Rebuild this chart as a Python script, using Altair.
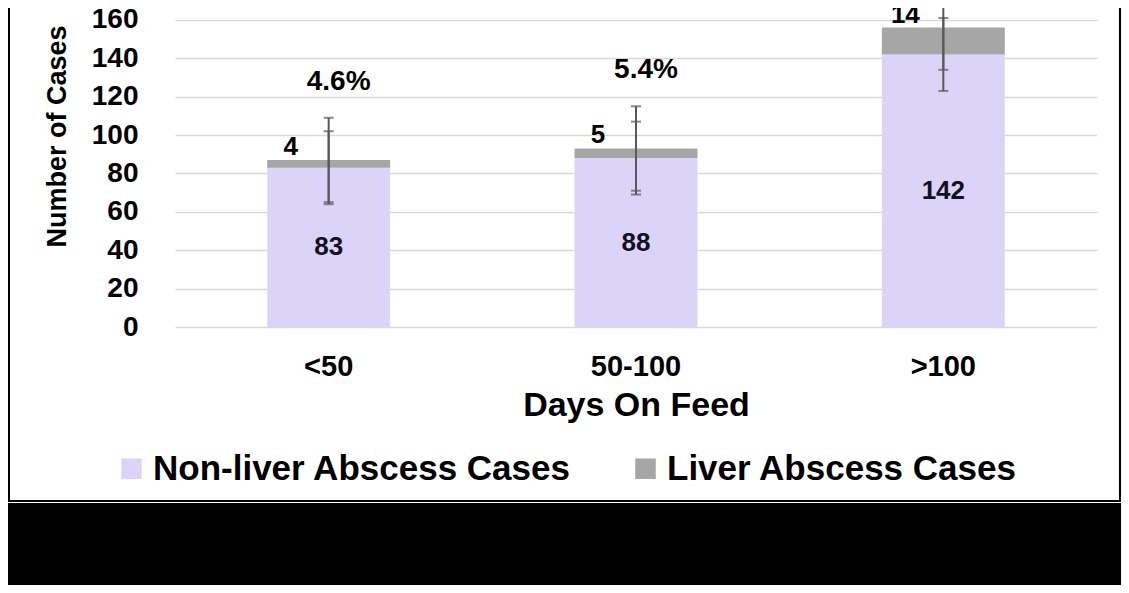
import altair as alt
import pandas as pd

days = ["<50", "50-100", ">100"]
non_liver = [83, 88, 142]
liver = [4, 5, 14]
pct_labels = ["4.6%", "5.4%", ""]
err_non_liver = [19, 19, 19]
err_total = [22, 22, 22]
series = ["Non-liver Abscess Cases", "Liver Abscess Cases"]
colors = ["#DCD4F8", "#A6A6A6"]
y_ticks = [0, 20, 40, 60, 80, 100, 120, 140, 160]

FONT = "Liberation Sans, Arial, sans-serif"

total = [a + b for a, b in zip(non_liver, liver)]

bars = pd.DataFrame({
    "days": days * 2,
    "series": [series[0]] * 3 + [series[1]] * 3,
    "lo": [0, 0, 0] + non_liver,
    "hi": non_liver + total,
})

labels = pd.DataFrame({
    "days": days,
    "non_liver": non_liver,
    "liver": liver,
    "total": total,
    "mid": [v / 2 for v in non_liver],
    "pct": pct_labels,
})

errors = pd.DataFrame({
    "days": days * 2,
    "lo": [c - e for c, e in zip(non_liver, err_non_liver)]
          + [c - e for c, e in zip(total, err_total)],
    "hi": [c + e for c, e in zip(non_liver, err_non_liver)]
          + [c + e for c, e in zip(total, err_total)],
})
caps = pd.DataFrame({
    "days": list(errors["days"]) * 2,
    "v": list(errors["lo"]) + list(errors["hi"]),
})

x_scale = alt.Scale(paddingInner=0.6, paddingOuter=0.3)
y_scale = alt.Scale(domain=[0, 166.2], nice=False)

x_axis = alt.Axis(
    labelFont=FONT, labelFontSize=29, labelFontWeight="bold", labelColor="black",
    labelPadding=25, labelAngle=0, ticks=False, domain=False, grid=False,
    titleFont=FONT, titleFontSize=34, titleFontWeight="bold", titleColor="black",
    titleY=88, titleBaseline="alphabetic",
)
y_axis = alt.Axis(
    values=y_ticks, labelFont=FONT, labelFontSize=28, labelFontWeight="bold",
    labelColor="black", labelPadding=37, ticks=False, domain=False,
    grid=True, gridColor="#D9D9D9", gridWidth=1.5,
    titleFont=FONT, titleFontSize=27, titleFontWeight="bold", titleColor="black",
    titleAngle=-90, titleX=-118, titleY=128, titleBaseline="middle", titleAlign="center",
)

x_enc = alt.X("days:N", sort=days, scale=x_scale, axis=x_axis, title="Days On Feed")


def y_enc(field):
    return alt.Y(field, scale=y_scale, axis=y_axis, title="Number of Cases")


bar_layer = alt.Chart(bars).mark_bar().encode(
    x=x_enc,
    y=y_enc("lo:Q"),
    y2="hi:Q",
    color=alt.Color(
        "series:N",
        scale=alt.Scale(domain=series, range=colors),
        legend=alt.Legend(
            title=None, orient="none", direction="horizontal",
            legendX=-61, legendY=443, padding=0,
            labelFont=FONT, labelFontSize=35, labelFontWeight="bold", labelColor="black",
            symbolType="square", symbolSize=420, symbolStrokeWidth=0,
            labelOffset=4, columnPadding=56, labelLimit=600,
        ),
    ),
)

err_rule = alt.Chart(errors).mark_rule(color="#595959", strokeWidth=2).encode(
    x=x_enc, y=y_enc("lo:Q"), y2="hi:Q",
)
err_caps = alt.Chart(caps).mark_tick(color="#595959", thickness=2, size=10).encode(
    x=x_enc, y=y_enc("v:Q"),
)

inner_text = alt.Chart(labels).mark_text(
    font=FONT, fontSize=26, fontWeight="bold", color="#111122", baseline="middle"
).encode(x=x_enc, y=y_enc("mid:Q"), text="non_liver:Q")

liver_text = alt.Chart(labels).mark_text(
    font=FONT, fontSize=26, fontWeight="bold", color="black", baseline="alphabetic",
    dx=-38, dy=-5,
).encode(x=x_enc, y=y_enc("total:Q"), text="liver:Q")

pct_text = alt.Chart(labels).mark_text(
    font=FONT, fontSize=28, fontWeight="bold", color="black", baseline="middle",
    dx=10, dy=-78,
).encode(x=x_enc, y=y_enc("total:Q"), text="pct:N")

frame = alt.Chart(alt.Data(values=[{}])).mark_rect(
    fillOpacity=0, stroke="black", strokeWidth=2
).encode(x=alt.value(-166), x2=alt.value(945), y=alt.value(-30), y2=alt.value(493))

band = alt.Chart(alt.Data(values=[{}])).mark_rect(color="black").encode(
    x=alt.value(-180), x2=alt.value(960), y=alt.value(495), y2=alt.value(600)
)

chart = alt.layer(
    frame, band, bar_layer, err_rule, err_caps, inner_text, liver_text, pct_text
).properties(
    width=922,
    height=319,
    autosize=alt.AutoSizeParams(type="none"),
    padding={"left": 167, "top": 0, "right": 24, "bottom": 258},
    background="white",
).configure_view(strokeWidth=0)

chart.save("out.html", embed_options={"renderer": "svg", "actions": False})
